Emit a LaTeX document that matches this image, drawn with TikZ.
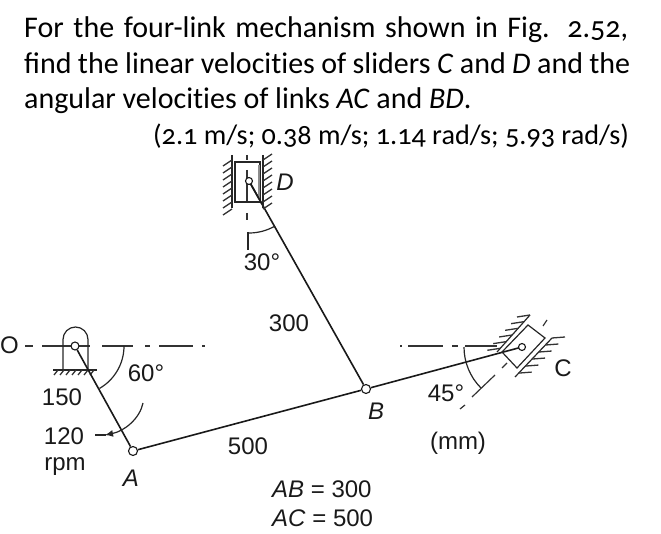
\documentclass[tikz,border=0pt]{standalone}
\usepackage{fontspec}
\setmainfont[Numbers=OldStyle]{Carlito}
\setsansfont{Liberation Sans}
\usetikzlibrary{arrows.meta,calc}
\tikzset{
  body/.style={anchor=base west,inner sep=0pt,font=\fontsize{30}{30}\selectfont},
  bodysm/.style={anchor=base west,inner sep=0pt,font=\fontsize{28.2}{30}\selectfont},
  lab/.style={inner sep=0pt,font=\sffamily\fontsize{24}{24}\selectfont,text=black!90},
  labit/.style={lab,font=\sffamily\itshape\fontsize{24}{24}\selectfont},
  linkbar/.style={line width=1.6pt,black!90},
  thin1/.style={line width=1.2pt,black!85},
  hatchy/.style={line width=1.3pt,black!80},
  dashy/.style={line width=1.2pt,black!80},
  pin/.style={circle,draw=black!90,fill=white,line width=1.1pt,minimum size=9pt,inner sep=0pt}
}
\hbadness=10000 \hfuzz=50pt
\begin{document}
\begin{tikzpicture}[x=1pt,y=-1pt]
\useasboundingbox (0,0) rectangle (661,534);
\node[body] (t1) at (24,38) {\hbox to 604pt{For the four-link mechanism shown in Fig. 2.52,}};
\node[body] (t2) at (24,74) {\hbox to 606pt{find the linear velocit\kern0pt ies of sliders \textit{C} and \textit{D} and the}};
\node[body] (t3) at (24,109) {angular velocit\kern0pt ies of links \textit{AC} and \textit{BD}.};
\node[bodysm] (t4) at (153,145) {(2.1 m/s; 0.38 m/s; 1.14 rad/s; 5.93 rad/s)};

\coordinate (O) at (75,346);
\node[pin] (A) at (133,451) {};
\node[pin] (B) at (366,389) {};
\coordinate (D) at (249,181);
\coordinate (C) at (522,347);

% pivot O
\draw[dashy] (25,346)--(33,346) (42,346)--(90,346) (102,346)--(133,346) (145,346)--(150,346) (159,346)--(193,346) (202,346)--(205,346);
\draw[thin1] (63,370)--(63,339.5) arc[start angle=180,end angle=360,radius=12.5] --(88,370);
\draw[thin1] (53,370)--(97,370);
\foreach \x in {58,64,...,94} \draw[hatchy] (\x,370)--(\x-4,375);
\node[pin,minimum size=8pt] (Op) at (O) {};
% links
\draw[linkbar] (Op)--(A) (A)--(B) (B)--(C);
\draw[linkbar] (B)--(D);
% angle 60
\draw[thin1] (124,346) arc[start angle=0,end angle=60,radius=49];
% speed arrow
\draw[thin1,-{Latex[length=8pt,width=7pt]}] (143,403) .. controls (140,418) and (125,431) .. (105,435);
\draw[thin1] (106,435)--(95,435);

% slider D
\draw[dashy] (247,155)--(247,160) (247,170)--(247,202) (247,213)--(247,220);
\draw[thin1] (248,232)--(248,250);
\draw[thin1] (249,233) arc[start angle=90,end angle=60,radius=52];
\draw[thin1] (235,162) rectangle (260,202);
\draw[line width=2.5pt,black!45] (259,165)--(259,200);
\draw[thin1] (232,155)--(232,208) (263,155)--(263,208);
\foreach \y in {160,167,...,209} {
  \draw[hatchy] (232,\y)--(223,\y+6);
  \draw[hatchy] (263,\y)--(272,\y-6);
}
\node[pin,minimum size=7pt] (Dp) at (D) {};
\draw[linkbar] (Dp)--(262,204);

% slider C
\draw[dashy] (400,346)--(402,346) (408,346)--(443,346) (452,346)--(458,346) (465,346)--(497,346);
\draw[thin1] (528,325)--(545,338)--(517,368)--(502,352)--cycle;
\draw[thin1] (530,315)--(497,352) (552,338)--(515,377);
\foreach \t in {0,0.18,...,1} {
  \draw[hatchy] ($(530,315)!\t!(497,352)$) -- ++(-13,2);
  \draw[hatchy] ($(552,338)!\t!(515,377)$) -- ++(13,-1);
}
\node[pin,minimum size=7pt] (Cp) at (C) {};
\draw[dashy] (547,320)--(543,326) (507,363)--(502,368) (495,375)--(472,397) (465,405)--(460,409);
\draw[thin1] (464,347) arc[start angle=180,end angle=135,radius=58];

% labels
\node[lab,anchor=base west] (lO) at (0,353) {O};
\node[lab] (l60) at (146,373) {60°};
\node[lab] (l150) at (62,397) {150};
\node[lab] (l120) at (64,436) {120};
\node[lab] (lrpm) at (65,467) {rpm};
\node[labit] (lA) at (131,478) {A};
\node[lab] (l500) at (248,446) {500};
\node[lab] (l300) at (289,323) {300};
\node[lab] (l30) at (262,262) {30°};
\node[labit] (lD) at (285,182) {D};
\node[labit] (lB) at (376,411) {B};
\node[lab] (lC) at (563,368) {C};
\node[lab] (l45) at (446,393) {45°};
\node[lab] (lmm) at (458,443) {(mm)};
\node[lab,anchor=base west] (ab) at (272,497) {\textit{AB} = 300};
\node[lab,anchor=base west] (ac) at (272,526) {\textit{AC} = 500};
\end{tikzpicture}
\end{document}
